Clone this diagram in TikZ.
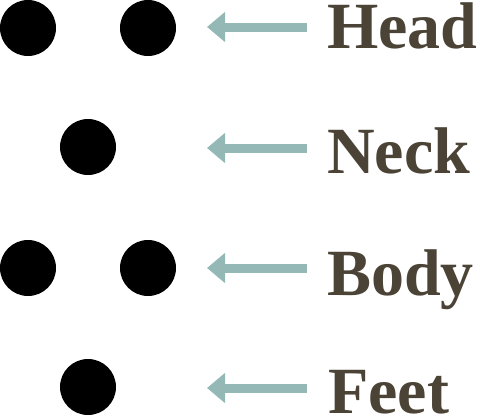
\documentclass[tikz,border=0pt]{standalone}
\usepackage{fontspec}
\setmainfont{Liberation Serif}
\usetikzlibrary{arrows.meta}
\definecolor{arrowc}{HTML}{93B8B6}
\definecolor{textc}{HTML}{4A4336}
\tikzset{
  dot/.style={circle,fill=black,minimum size=56pt,inner sep=0pt},
  label/.style={anchor=base west,inner sep=0pt,text=textc,font=\bfseries\fontsize{66}{66}\selectfont},
  pointer/.style={draw=arrowc,line width=9pt,-{Triangle[length=18pt,width=29pt]}}
}
\begin{document}
\begin{tikzpicture}[x=1pt,y=-1pt]
\useasboundingbox (0,0) rectangle (480,416);
\node[dot] (h1) at (28,28) {};
\node[dot] (h2) at (148,28) {};
\node[dot] (n1) at (88,147) {};
\node[dot] (b1) at (28,268) {};
\node[dot] (b2) at (148,268) {};
\node[dot] (f1) at (88,387) {};
\node[label] (th) at (327,48) {Head};
\node[label] (tn) at (327,173) {Neck};
\node[label] (tb) at (327,295) {Body};
\node[label] (tf) at (328,413) {Feet};
\coordinate (as1) at (307,27); \coordinate (ae1) at (207,27);
\coordinate (as2) at (307,148); \coordinate (ae2) at (207,148);
\coordinate (as3) at (307,268); \coordinate (ae3) at (207,268);
\coordinate (as4) at (307,388); \coordinate (ae4) at (207,388);
\draw[pointer] (as1) -- (ae1);
\draw[pointer] (as2) -- (ae2);
\draw[pointer] (as3) -- (ae3);
\draw[pointer] (as4) -- (ae4);
\end{tikzpicture}
\end{document}
